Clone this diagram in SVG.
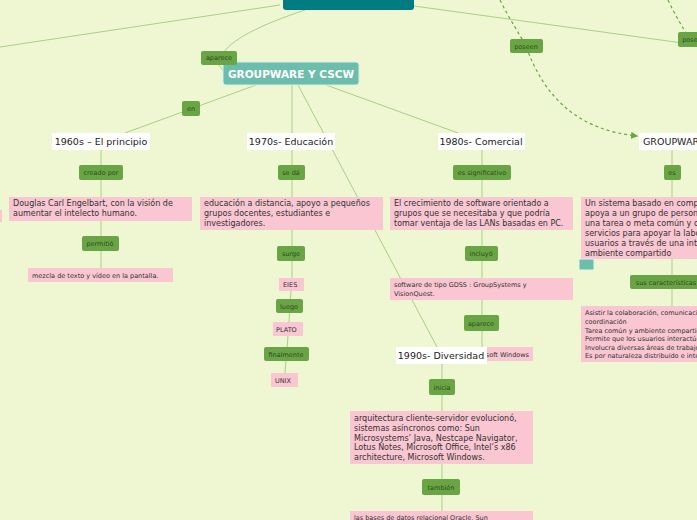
<svg xmlns="http://www.w3.org/2000/svg" width="697" height="520" viewBox="0 0 697 520">
<defs>
<style>
text{font-family:"DejaVu Sans","Liberation Sans",sans-serif;}
.lbl rect{fill:#6aa545;}
.lbl text{font-size:6.5px;fill:#2f4a22;text-anchor:middle;}
.wn rect{fill:#ffffff;}
.wn text{font-size:9.5px;fill:#222;text-anchor:middle;}
.pk rect{fill:#f9c6d2;}
.pk text{font-size:8px;fill:#333;}
.sm text{font-size:6.5px;}
.ln{fill:none;stroke:#a9cf86;stroke-width:1;}
.ds{fill:none;stroke:#6aa545;stroke-width:1.2;stroke-dasharray:3,3;}
</style>
<marker id="ar" markerWidth="6" markerHeight="6" refX="5" refY="3" orient="auto"><path d="M0,0L6,3L0,6z" fill="#6aa545"/></marker>
</defs>
<rect width="697" height="520" fill="#eef7d2"/>
<g id="connectors">
<path class="ln" d="M280,5L0,47"/>
<path class="ln" d="M305,10C260,25 230,40 222,55M218,64L226,74"/>
<path class="ln" d="M414,6L697,45"/>
<path class="ds" d="M500,0C510,20 520,35 526,46C545,100 580,130 637,136" marker-end="url(#ar)"/>
<path class="ds" d="M668,0C675,15 683,28 688,36"/>
<path class="ln" d="M256,85L125,133"/>
<path class="ln" d="M292,85V133"/>
<path class="ln" d="M298,85L437,347"/>
<path class="ln" d="M326,85L458,133"/>
<path class="ln" d="M101,150V268"/>
<path class="ln" d="M292,150V278M291,291L289,322M288,336L285,373"/>
<path class="ln" d="M482,150V347"/>
<path class="ln" d="M672,150V306"/>
<path class="ln" d="M442,364V511"/>
</g>
<g id="top"><rect x="283" y="-10" width="131" height="20" rx="3" fill="#007b80"/></g>
<g id="main"><rect x="223" y="62" width="136" height="23" rx="3" fill="#6dbdac" stroke="#d6efe8"/><text x="291" y="78" font-size="10.5" font-weight="bold" fill="#fff" text-anchor="middle">GROUPWARE Y CSCW</text></g>
<g id="l1" class="lbl"><rect x="201" y="51" width="36" height="14" rx="2"/><text x="219" y="60">aparece</text></g>
<g id="l2" class="lbl"><rect x="182" y="101" width="18" height="15" rx="2"/><text x="191" y="111">en</text></g>
<g id="l3" class="lbl"><rect x="510" y="39" width="33" height="14" rx="2"/><text x="526" y="49">poseen</text></g>
<g id="l4" class="lbl"><rect x="678" y="32" width="30" height="15" rx="2"/><text x="694" y="42">poseen</text></g>
<g id="n60" class="wn"><rect x="52" y="133" width="98" height="17"/><text x="101" y="145">1960s – El principio</text></g>
<g id="n70" class="wn"><rect x="247" y="133" width="88" height="17"/><text x="291" y="145">1970s- Educación</text></g>
<g id="n80" class="wn"><rect x="438" y="133" width="87" height="17"/><text x="481" y="145">1980s- Comercial</text></g>
<g id="ngw" class="wn"><rect x="639" y="133" width="70" height="17"/><text x="643" y="145" style="text-anchor:start">GROUPWARE</text></g>
<g id="l5" class="lbl"><rect x="79" y="165" width="44" height="15" rx="2"/><text x="101" y="175">creado por</text></g>
<g id="l6" class="lbl"><rect x="278" y="165" width="27" height="15" rx="2"/><text x="291" y="175">se dá</text></g>
<g id="l7" class="lbl"><rect x="453" y="165" width="58" height="15" rx="2"/><text x="482" y="175">es significativo</text></g>
<g id="l8" class="lbl"><rect x="664" y="165" width="17" height="15" rx="2"/><text x="672" y="175">es</text></g>
<g id="pl" class="pk"><rect x="-5" y="210" width="7" height="12"/></g>
<g id="p1" class="pk"><rect x="9" y="197" width="183" height="24"/><text x="13" y="206">Douglas Carl Engelbart, con la visión de</text><text x="13" y="216">aumentar el intelecto humano.</text></g>
<g id="p2" class="pk"><rect x="200" y="197" width="183" height="33"/><text x="204" y="206">educación a distancia, apoyo a pequeños</text><text x="204" y="216">grupos docentes, estudiantes e</text><text x="204" y="226">investigadores.</text></g>
<g id="p3" class="pk"><rect x="390" y="197" width="183" height="33"/><text x="394" y="206">El crecimiento de software orientado a</text><text x="394" y="216">grupos que se necesitaba y que podría</text><text x="394" y="226">tomar ventaja de las LANs basadas en PC.</text></g>
<g id="p4" class="pk"><rect x="581" y="197" width="130" height="62"/><text x="585" y="206">Un sistema basado en computadoras que</text><text x="585" y="216">apoya a un grupo de personas en</text><text x="585" y="226">una tarea o meta común y que provee</text><text x="585" y="236">servicios para apoyar la labor de los</text><text x="585" y="246">usuarios a través de una interfaz de</text><text x="585" y="256">ambiente compartido</text></g>
<g id="tq"><rect x="579" y="259" width="15" height="11" rx="1" fill="#6dbdac" stroke="#e6f4ef"/></g>
<g id="l9" class="lbl"><rect x="82" y="236" width="37" height="15" rx="2"/><text x="100" y="246">permitió</text></g>
<g id="l10" class="lbl"><rect x="277" y="246" width="28" height="15" rx="2"/><text x="291" y="256">surge</text></g>
<g id="l11" class="lbl"><rect x="465" y="246" width="33" height="15" rx="2"/><text x="481" y="256">incluyó</text></g>
<g id="p5" class="pk sm"><rect x="28" y="268" width="145" height="14"/><text x="32" y="278">mezcla de texto y vídeo en la pantalla.</text></g>
<g id="p6" class="pk sm"><rect x="279" y="278" width="25" height="13"/><text x="283" y="287">EIES</text></g>
<g id="p7" class="pk sm"><rect x="390" y="278" width="183" height="22"/><text x="394" y="287">software de tipo GDSS : GroupSystems y</text><text x="394" y="296">VisionQuest.</text></g>
<g id="l12" class="lbl"><rect x="630" y="275" width="72" height="14" rx="2"/><text x="666" y="285">sus características</text></g>
<g id="l13" class="lbl"><rect x="276" y="299" width="27" height="14" rx="2"/><text x="289" y="309">luego</text></g>
<g id="l14" class="lbl"><rect x="464" y="315" width="35" height="16" rx="2"/><text x="481" y="326">aparece</text></g>
<g id="p8" class="pk sm"><rect x="273" y="322" width="30" height="14"/><text x="276" y="332">PLATO</text></g>
<g id="p9" class="pk sm"><rect x="581" y="306" width="130" height="56"/><text x="585" y="315">Asistir la colaboración, comunicación y</text><text x="585" y="324">coordinación</text><text x="585" y="333">Tarea común y ambiente compartido</text><text x="585" y="341">Permite que los usuarios interactúen</text><text x="585" y="350">Involucra diversas áreas de trabajo</text><text x="585" y="358">Es por naturaleza distribuido e interactivo</text></g>
<g id="l15" class="lbl"><rect x="264" y="347" width="45" height="14" rx="2"/><text x="286" y="357">finalmente</text></g>
<g id="p10" class="pk sm"><rect x="430" y="347" width="103" height="14"/><text x="529" y="357" text-anchor="end">Microsoft Windows</text></g>
<g id="n90" class="wn"><rect x="396" y="347" width="91" height="17"/><text x="441" y="359">1990s- Diversidad</text></g>
<g id="p11" class="pk sm"><rect x="271" y="373" width="27" height="14"/><text x="275" y="383">UNIX</text></g>
<g id="l16" class="lbl"><rect x="429" y="379" width="26" height="16" rx="2"/><text x="442" y="390">inicia</text></g>
<g id="p12" class="pk"><rect x="350" y="411" width="183" height="53"/><text x="354" y="421">arquitectura cliente-servidor evolucionó,</text><text x="354" y="431">sistemas asíncronos como: Sun</text><text x="354" y="441">Microsystems’ Java, Nestcape Navigator,</text><text x="354" y="450">Lotus Notes, Microsoft Office, Intel’s x86</text><text x="354" y="460">architecture, Microsoft Windows.</text></g>
<g id="l17" class="lbl"><rect x="422" y="479" width="38" height="16" rx="2"/><text x="441" y="490">también</text></g>
<g id="p13" class="pk sm"><rect x="350" y="511" width="183" height="14"/><text x="354" y="520">las bases de datos relacional Oracle, Sun</text></g>
</svg>
